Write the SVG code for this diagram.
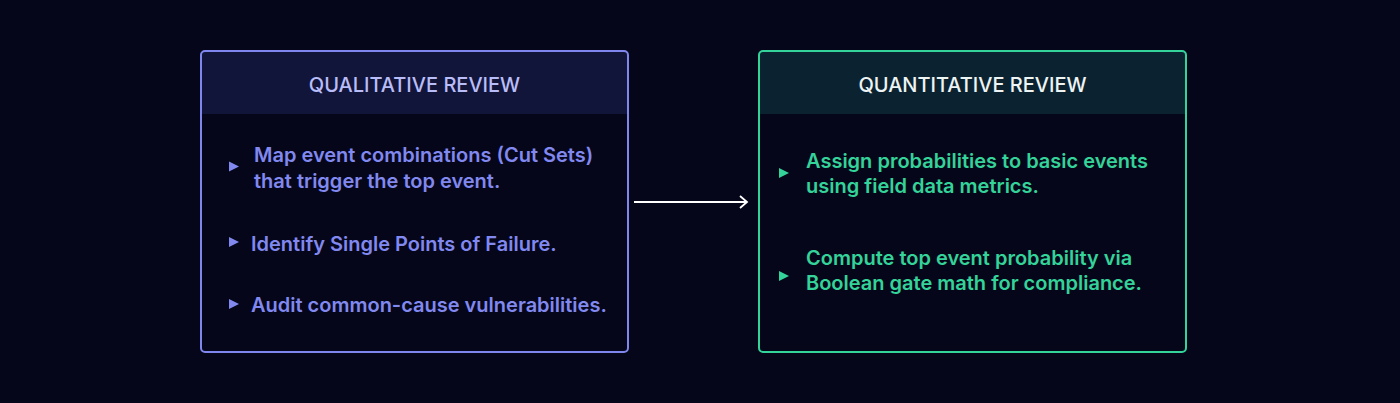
<svg xmlns="http://www.w3.org/2000/svg" width="1400" height="403" viewBox="0 0 1400 403">
  <defs>
    <style>
      .hdr { font-family: Inter, "Liberation Sans", sans-serif; font-size: 20px; font-weight: 500; text-anchor: middle; }
      .item { font-family: Inter, "Liberation Sans", sans-serif; font-size: 20px; font-weight: 600; }
      .qual { fill: #8189f0; }
      .quant { fill: #34d399; }
    </style>
    <marker id="chev" viewBox="0 0 12 14" refX="10" refY="7" markerWidth="12" markerHeight="14" markerUnits="userSpaceOnUse" orient="auto">
      <path d="M3,1 L10,7 L3,13" fill="none" stroke="#ffffff" stroke-width="1.8"/>
    </marker>
    <clipPath id="clipL"><rect x="201" y="51" width="427" height="301" rx="4"/></clipPath>
    <clipPath id="clipR"><rect x="759" y="51" width="427" height="301" rx="4"/></clipPath>
  </defs>
  <rect width="1400" height="403" fill="#05061a"/>

  <!-- Qualitative review card -->
  <g id="qualitative">
    <rect x="201" y="51" width="427" height="301" rx="4" fill="#05061a"/>
    <rect x="201" y="51" width="427" height="63" fill="#12153a" clip-path="url(#clipL)"/>
    <rect x="201" y="51" width="427" height="301" rx="4" fill="none" stroke="#7f87ee" stroke-width="2"/>
    <text class="hdr" x="414.5" y="92" fill="#b9bdf7">QUALITATIVE REVIEW</text>
    <path class="qual" d="M229,161.5 L239,166.5 L229,171.5 Z"/>
    <text class="item qual" x="254" y="161.7">Map event combinations (Cut Sets)</text>
    <text class="item qual" x="254" y="187.7">that trigger the top event.</text>
    <path class="qual" d="M229,237 L239,242 L229,247 Z"/>
    <text class="item qual" x="251" y="250.5">Identify Single Points of Failure.</text>
    <path class="qual" d="M229,299 L239,304 L229,309 Z"/>
    <text class="item qual" x="251" y="311.7">Audit common-cause vulnerabilities.</text>
  </g>

  <!-- Quantitative review card -->
  <g id="quantitative">
    <rect x="759" y="51" width="427" height="301" rx="4" fill="#05061a"/>
    <rect x="759" y="51" width="427" height="63" fill="#0b2330" clip-path="url(#clipR)"/>
    <rect x="759" y="51" width="427" height="301" rx="4" fill="none" stroke="#34d399" stroke-width="2"/>
    <text class="hdr" x="972.5" y="92" fill="#eef4f4">QUANTITATIVE REVIEW</text>
    <path class="quant" d="M779,168 L789,173 L779,178 Z"/>
    <text class="item quant" x="806" y="167.7">Assign probabilities to basic events</text>
    <text class="item quant" x="806" y="193">using field data metrics.</text>
    <path class="quant" d="M779,271 L789,276 L779,281 Z"/>
    <text class="item quant" x="806" y="264.5">Compute top event probability via</text>
    <text class="item quant" x="806" y="289.5">Boolean gate math for compliance.</text>
  </g>

  <!-- Connectors -->
  <g id="connectors">
    <line x1="634" y1="202" x2="747" y2="202" stroke="#ffffff" stroke-width="2" marker-end="url(#chev)"/>
  </g>
</svg>
